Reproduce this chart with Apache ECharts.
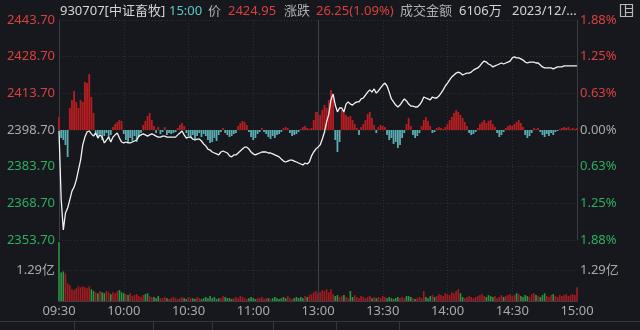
<!DOCTYPE html>
<html><head><meta charset="utf-8">
<script src="https://cdn.jsdelivr.net/npm/echarts@6/dist/echarts.min.js"></script>
<style>html,body{margin:0;padding:0;background:#16181d;}#c{width:640px;height:330px;}</style>
</head><body><div id="c"></div>
<script>
// ---------- data ----------
const prevClose = 2398.70;
const priceMin = 2353.70, priceMax = 2443.70, priceStep = 15;
const volMax = 2.58, volStep = 1.29; // 亿
const xTickLabels = ['09:30','10:00','10:30','11:00','13:00','13:30','14:00','14:30','15:00'];
const header = {code:'930707[中证畜牧]', time:'15:00', priceLbl:'价', price:'2424.95', chgLbl:'涨跌', chg:'26.25(1.09%)', amtLbl:'成交金额', amt:'6106万', date:'2023/12/...'};

const prices = [
2398.4,2370.5,2357.8,2364.7,2366.8,2370.1,2373.7,2375.4,2378.2,2382.3,
2386.4,2392.6,2395.8,2397.9,2398.3,2397.1,2396.2,2397.5,2395.4,2396.7,
2395.8,2393.4,2394.6,2395.8,2393.8,2395.8,2396.7,2397.5,2395.4,2393.8,
2393.4,2393.8,2393.4,2393.4,2393.8,2394.2,2394.6,2396.2,2396.7,2397.1,
2396.7,2396.2,2396.7,2397.1,2396.7,2396.2,2395.8,2395.8,2396.2,2396.2,
2395.8,2395.8,2395.8,2395.8,2395.8,2396.7,2397.5,2398.3,2396.7,2395.4,
2395.8,2395.8,2395.0,2394.6,2395.0,2395.0,2394.2,2393.0,2392.2,2390.9,
2390.5,2389.7,2389.3,2388.9,2388.5,2389.7,2390.1,2389.7,2389.3,2388.1,
2387.7,2388.5,2388.5,2389.3,2390.1,2390.9,2391.7,2391.7,2390.9,2389.7,
2388.9,2388.5,2388.9,2389.3,2389.7,2389.7,2389.7,2389.3,2389.3,2388.9,
2388.5,2388.1,2387.7,2386.8,2386.0,2385.6,2386.0,2386.4,2386.4,2386.0,
2385.6,2385.2,2384.8,2384.4,2385.2,2384.8,2385.6,2388.1,2389.7,2390.9,
2391.7,2392.6,2395.0,2397.9,2402.0,2405.2,2411.0,2413.4,2408.9,2406.1,
2407.7,2407.7,2406.1,2409.3,2410.2,2409.3,2408.9,2409.7,2410.2,2410.2,
2411.4,2411.8,2413.0,2414.2,2415.1,2414.2,2415.5,2413.8,2414.7,2415.9,
2417.1,2417.9,2416.7,2414.2,2411.4,2410.2,2408.9,2408.1,2408.9,2410.2,
2411.4,2410.6,2409.3,2408.5,2408.5,2408.1,2408.1,2408.9,2410.2,2412.2,
2411.8,2411.4,2411.0,2412.2,2411.8,2411.8,2412.6,2413.8,2415.1,2416.7,
2417.9,2419.2,2420.4,2421.2,2422.0,2422.4,2422.0,2421.2,2421.6,2422.0,
2422.0,2422.4,2423.2,2423.7,2424.1,2424.9,2426.1,2426.9,2426.5,2425.7,
2425.3,2424.5,2424.9,2425.3,2425.7,2426.1,2425.7,2426.1,2426.5,2426.9,
2428.2,2428.6,2428.2,2428.2,2427.8,2427.3,2426.5,2426.1,2426.5,2426.5,
2426.5,2426.1,2426.1,2425.3,2424.5,2424.1,2424.1,2424.1,2424.1,2423.7,
2424.1,2424.5,2424.5,2424.5,2424.9,2424.9,2424.9,2424.9,2424.9,2424.9,
2424.95];

const diffBars = [
13,-8,-10,-15,-27,22,30,39,28,22,
30,28,48,47,56,33,17,-5,-8,-4,
-10,-6,-3,-8,-5,3,6,8,10,9,
-4,-10,-13,-8,-11,-6,-12,-7,-3,5,
9,14,17,10,4,-3,3,-4,-2,3,
-5,-3,-4,-3,-2,2,5,7,4,-3,
-6,-8,-5,-9,-6,-3,-7,-4,-6,-10,
-13,-12,-8,-11,-5,-2,2,-3,-5,-7,
-6,-4,-3,4,7,9,8,5,-2,-7,
-10,-8,-4,-2,2,-2,-4,-7,-9,-6,
-8,-5,-4,-2,2,3,2,-3,-6,-5,
-4,-2,1,3,4,2,1,2,10,18,
18,15,20,25,22,30,40,32,-10,-22,
-12,20,18,15,13,14,10,6,2,-5,
3,6,10,16,18,12,5,-3,3,5,
4,3,-5,-10,-8,-14,-12,-18,-15,-8,
-3,6,12,4,-5,-8,-6,-3,4,10,
13,9,4,-3,-2,2,3,2,1,3,
6,10,13,17,20,18,15,12,8,4,
-3,-5,-4,-2,2,6,8,10,7,9,
10,6,3,-3,-7,-5,-2,2,4,5,
4,6,8,10,7,3,-5,-8,-6,-3,
2,1,2,-2,-5,-7,-4,-6,-3,-5,
-2,-1,1,2,3,2,3,1,2,1,
2];

const volumes = [
2.50,1.21,1.25,1.16,0.75,0.67,0.50,0.46,0.54,0.62,
0.58,0.62,0.58,0.54,0.62,0.50,0.42,0.37,0.33,0.42,
0.37,0.33,0.42,0.37,0.29,0.37,0.33,0.42,0.46,0.37,
0.33,0.29,0.25,0.33,0.21,0.25,0.29,0.21,0.17,0.25,
0.29,0.33,0.21,0.17,0.17,0.12,0.21,0.12,0.12,0.17,
0.12,0.08,0.12,0.17,0.12,0.08,0.12,0.17,0.12,0.08,
0.17,0.12,0.12,0.08,0.17,0.12,0.08,0.12,0.17,0.12,
0.21,0.12,0.17,0.08,0.12,0.12,0.21,0.17,0.12,0.12,
0.08,0.12,0.17,0.12,0.21,0.17,0.12,0.08,0.12,0.17,
0.12,0.08,0.12,0.12,0.17,0.08,0.12,0.12,0.08,0.12,
0.17,0.12,0.08,0.12,0.17,0.12,0.21,0.12,0.08,0.12,
0.17,0.12,0.17,0.12,0.21,0.17,0.25,0.29,0.37,0.42,
0.33,0.37,0.46,0.42,0.50,0.37,0.50,0.29,0.21,0.25,
0.17,0.21,0.25,0.17,0.12,0.42,0.17,0.25,0.17,0.12,
0.21,0.17,0.12,0.17,0.21,0.12,0.17,0.12,0.17,0.12,
0.21,0.17,0.12,0.17,0.12,0.08,0.12,0.17,0.12,0.17,
0.12,0.21,0.21,0.17,0.12,0.08,0.12,0.17,0.12,0.42,
0.17,0.12,0.21,0.25,0.17,0.21,0.29,0.25,0.21,0.33,
0.29,0.25,0.37,0.33,0.42,0.50,0.33,0.17,0.12,0.17,
0.21,0.17,0.12,0.17,0.21,0.25,0.29,0.21,0.17,0.25,
0.21,0.17,0.21,0.12,0.17,0.25,0.17,0.21,0.25,0.29,
0.21,0.25,0.33,0.29,0.21,0.17,0.25,0.21,0.17,0.29,
0.33,0.25,0.21,0.17,0.25,0.33,0.21,0.17,0.25,0.29,
0.21,0.17,0.25,0.21,0.25,0.29,0.21,0.25,0.29,0.25,
0.58];

// ---------- build ----------
function pad(n){return (n<10?'0':'')+n;}
const categories = [];
for (let t=9*60+30; t<=11*60+30; t++) categories.push(pad(Math.floor(t/60))+':'+pad(t%60));
for (let t=13*60+1; t<=15*60; t++) categories.push(pad(Math.floor(t/60))+':'+pad(t%60));

const RED='#dc3f3e', GREEN='#2fae60', GREY='#a9a9a9';
const BAR_RED='#b81d20', BAR_CYAN='#5cadb2';
const VOL_RED='#a61b1f', VOL_GREEN='#2f9443';
const GRIDC='#2c2f36', BORDER='#3b3e46';
const FONT="'Noto Sans','Noto Sans CJK SC',sans-serif";

function priceColor(v){ if (v>prevClose+0.001) return RED; if (v<prevClose-0.001) return GREEN; return GREY; }
const isTick = (i)=> i%30===0;

const chart = echarts.init(document.getElementById('c'));
const hy = 11;
const hText = (x, t, c)=>({type:'text', x:x, y:hy, style:{text:t, fill:c, font:'13px '+FONT, verticalAlign:'middle'}});

chart.setOption({
  animation:false,
  backgroundColor:'#16181d',
  textStyle:{fontFamily:FONT},
  grid:[
    {left:59, right:63, top:20, height:220},
    {left:59, right:63, top:240, height:61}
  ],
  xAxis:[
    {type:'category', gridIndex:0, data:categories, boundaryGap:false,
     axisLine:{show:false}, axisTick:{show:false}, axisLabel:{show:false},
     splitLine:{show:true, interval:(i)=>isTick(i)&&i!==0&&i!==240&&i!==120, lineStyle:{color:GRIDC, type:[1,2]}}},
    {type:'category', gridIndex:1, data:categories, boundaryGap:false,
     axisLine:{show:true, lineStyle:{color:BORDER}}, axisTick:{show:false},
     axisLabel:{interval:(i)=>isTick(i), formatter:(v,i)=>xTickLabels[Math.round(i/30)], color:GREY, fontSize:13, margin:4, fontFamily:FONT},
     splitLine:{show:true, interval:(i)=>isTick(i)&&i!==0&&i!==240&&i!==120, lineStyle:{color:GRIDC, type:[1,2]}}},
    {type:'category', gridIndex:1, data:categories, boundaryGap:false, position:'top',
     axisLine:{show:true, lineStyle:{color:BORDER}}, axisTick:{show:false}, axisLabel:{show:false}, splitLine:{show:false}}
  ],
  yAxis:[
    {type:'value', gridIndex:0, position:'left', min:priceMin, max:priceMax, interval:priceStep,
     axisLine:{show:true, lineStyle:{color:BORDER}}, axisTick:{show:false},
     axisLabel:{formatter:(v)=>v.toFixed(2), color:(v)=>priceColor(Number(v)), fontSize:13, margin:4, fontFamily:FONT},
     splitLine:{show:true, lineStyle:{color:GRIDC, type:[1,2]}}},
    {type:'value', gridIndex:0, position:'right', min:priceMin, max:priceMax, interval:priceStep,
     axisLine:{show:true, lineStyle:{color:BORDER}}, axisTick:{show:false},
     axisLabel:{formatter:(v)=>(Math.abs(v-prevClose)/prevClose*100).toFixed(2)+'%', color:(v)=>priceColor(Number(v)), fontSize:13, margin:3, fontFamily:FONT},
     splitLine:{show:false}},
    {type:'value', gridIndex:0, min:-110, max:110, show:false},
    {type:'value', gridIndex:1, position:'left', min:0, max:volMax, interval:volStep,
     axisLine:{show:false}, axisTick:{show:false},
     axisLabel:{formatter:(v)=>Math.abs(v-volStep)<1e-6?'1.29亿':'', color:GREY, fontSize:13, margin:4, fontFamily:FONT},
     splitLine:{show:true, lineStyle:{color:GRIDC, type:[1,2]}}},
    {type:'value', gridIndex:1, position:'right', min:0, max:volMax, interval:volStep,
     axisLine:{show:false}, axisTick:{show:false},
     axisLabel:{formatter:(v)=>Math.abs(v-volStep)<1e-6?'1.29亿':'', color:GREY, fontSize:13, margin:3, fontFamily:FONT},
     splitLine:{show:false}}
  ],
  series:[
    {type:'bar', xAxisIndex:0, yAxisIndex:2, data:diffBars, barWidth:1.8, z:2,
     itemStyle:{color:(p)=>p.value>=0?BAR_RED:BAR_CYAN}},
    {type:'line', xAxisIndex:0, yAxisIndex:0, data:prices, showSymbol:false, z:5,
     lineStyle:{color:'#f2f2f2', width:1.3},
     markLine:{silent:true, symbol:'none', label:{show:false}, lineStyle:{color:'#3e414a', type:'solid', width:1},
       data:[{xAxis:120}]}},
    {type:'bar', xAxisIndex:1, yAxisIndex:3, data:volumes, barWidth:1.6,
     itemStyle:{color:(p)=>{const i=p.dataIndex; const prev=i===0?prevClose:prices[i-1]; return prices[i]>=prev?VOL_RED:VOL_GREEN;}},
     markLine:{silent:true, symbol:'none', label:{show:false}, lineStyle:{color:'#3e414a', type:'solid', width:1},
       data:[{xAxis:120}]}}
  ],
  graphic:[
    hText(60, header.code, '#d4d4d4'),
    hText(169, header.time, '#5cc8c8'),
    hText(208, header.priceLbl, '#b0b0b0'),
    hText(228, header.price, RED),
    hText(284, header.chgLbl, '#b0b0b0'),
    hText(316, header.chg, RED),
    hText(400, header.amtLbl, '#b0b0b0'),
    hText(459, header.amt, '#d4d4d4'),
    hText(512, header.date, '#d4d4d4'),
    {type:'rect', shape:{x:620.5, y:4.5, width:12, height:12}, style:{fill:'none', stroke:'#b8b8b8', lineWidth:1.2}},
    {type:'line', shape:{x1:625.5, y1:4.5, x2:625.5, y2:16.5}, style:{stroke:'#b8b8b8', lineWidth:1.2}},
    {type:'line', shape:{x1:625.5, y1:8.5, x2:632.5, y2:8.5}, style:{stroke:'#b8b8b8', lineWidth:1}},
    {type:'line', shape:{x1:625.5, y1:12.5, x2:632.5, y2:12.5}, style:{stroke:'#b8b8b8', lineWidth:1}},
    {type:'line', shape:{x1:0, y1:321.5, x2:640, y2:321.5}, style:{stroke:'#34373e', lineWidth:1}},
    {type:'line', shape:{x1:74.5, y1:322, x2:74.5, y2:330}, style:{stroke:'#34373e', lineWidth:1}},
    {type:'line', shape:{x1:153.5, y1:322, x2:153.5, y2:330}, style:{stroke:'#34373e', lineWidth:1}},
    {type:'line', shape:{x1:212.5, y1:322, x2:212.5, y2:330}, style:{stroke:'#34373e', lineWidth:1}},
    {type:'line', shape:{x1:273.5, y1:322, x2:273.5, y2:330}, style:{stroke:'#34373e', lineWidth:1}},
    {type:'line', shape:{x1:336.5, y1:322, x2:336.5, y2:330}, style:{stroke:'#34373e', lineWidth:1}},
    {type:'line', shape:{x1:399.5, y1:322, x2:399.5, y2:330}, style:{stroke:'#34373e', lineWidth:1}}
  ]
});
</script></body></html>
